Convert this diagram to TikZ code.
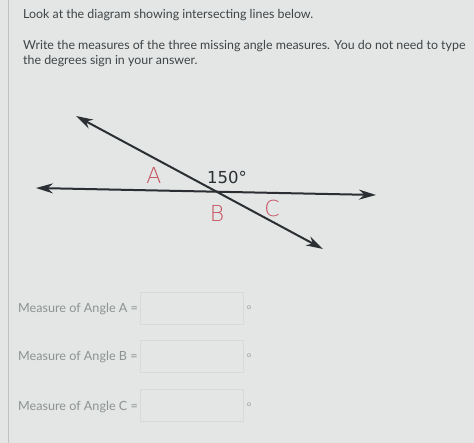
\documentclass[tikz,border=0pt]{standalone}
\usepackage{fontspec}
\setmainfont{Lato}
\newfontfamily\figfont{DejaVu Sans}
\newfontfamily\thinfont{DejaVu Sans ExtraLight}
\usetikzlibrary{arrows.meta,positioning}

\definecolor{screen}{HTML}{E3E6E5}
\definecolor{ink}{HTML}{2B2F33}
\definecolor{anglemark}{HTML}{C5535F}
\definecolor{faded}{HTML}{8D9292}
\definecolor{boxedge}{HTML}{D6DAD9}

\begin{document}
\begin{tikzpicture}[x=1pt, y=-1pt,
    prompt/.style={anchor=base west, inner sep=0pt, text=ink!90, font=\fontsize{12.4}{14}\selectfont},
    answer/.style={anchor=base west, inner sep=0pt, text=faded, font=\fontsize{12.6}{14}\selectfont},
    ray/.style={<->, >={Stealth[length=17pt,width=10pt]}, draw=ink, line width=2pt},
    letter/.style={text=anglemark, inner sep=0pt, font=\thinfont\fontsize{22}{24}\selectfont},
    unitmark/.style={text=faded!80, inner sep=0pt, font=\fontsize{12}{14}\selectfont},
    answerbox/.style={draw=boxedge, line width=0.6pt, minimum width=103pt, minimum height=32pt, inner sep=0pt}]

    % screen background
    \fill[screen] (0,0) rectangle (474,443);
    \useasboundingbox (0,0) rectangle (474,443);
    \draw[faded!55, line width=1pt] (8,0) -- (8,443);

    % question text
    \node[prompt] (intro) at (23,19) {Look at the diagram showing intersecting lines below.};
    \node[prompt] (task1) at (23,50) {Write the measures of the three missing angle measures. You do not need to type};
    \node[prompt] (task2) at (23,64.5) {the degrees sign in your answer.};

    % intersecting lines
    \coordinate (hleft) at (36,188);
    \coordinate (hright) at (376,195);
    \coordinate (dleft) at (76,116);
    \coordinate (dright) at (323,249);
    \draw[ray] (hleft) -- (hright);
    \draw[ray] (dleft) -- (dright);

    % angle labels
    \node[letter] (angA) at (154,175) {A};
    \node[inner sep=0pt, text=ink, font=\figfont\fontsize{16.5}{18}\selectfont] (given) at (227,177) {150°};
    \node[letter] (angB) at (217,213) {B};
    \node[letter] (angC) at (272,208) {C};

    % answer rows
    \node[answer] (rowA) at (18,313) {Measure of Angle A =};
    \node[answerbox] (boxA) at (192,308) {};
    \node[unitmark] (degA) at (249,310) {°};

    \node[answer] (rowB) at (18,361) {Measure of Angle B =};
    \node[answerbox] (boxB) at (192,356) {};
    \node[unitmark] (degB) at (249,358) {°};

    \node[answer] (rowC) at (18,410) {Measure of Angle C =};
    \node[answerbox] (boxC) at (192,405) {};
    \node[unitmark] (degC) at (249,407) {°};

\end{tikzpicture}
\end{document}
